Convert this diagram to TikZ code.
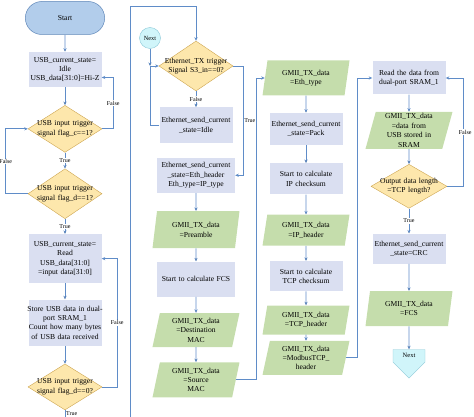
\documentclass[tikz,border=0pt]{standalone}
\usepackage{fontspec}
\setmainfont{Liberation Serif}
\usetikzlibrary{arrows.meta,positioning,shapes.geometric,shapes.misc,shapes.symbols}

\definecolor{boxblue}{RGB}{218,223,241}
\definecolor{iogreen}{RGB}{197,221,172}
\definecolor{decyellow}{RGB}{253,231,172}
\definecolor{decedge}{RGB}{205,165,80}
\definecolor{startblue}{RGB}{178,205,235}
\definecolor{startedge}{RGB}{95,135,185}
\definecolor{nextcyan}{RGB}{208,245,250}
\definecolor{nextedge}{RGB}{140,200,215}
\definecolor{flowline}{RGB}{95,140,200}

\begin{document}
\begin{tikzpicture}[x=1pt, y=-1pt,
    font=\fontsize{7.6}{9.4}\selectfont,
    >={Stealth[length=3.6pt,width=3.2pt]},
    proc/.style={rectangle, fill=boxblue, text width=#1, inner xsep=0pt, inner ysep=2pt, align=center},
    proc/.default=73pt,
    io/.style={trapezium, trapezium left angle=73, trapezium right angle=107, trapezium stretches body,
      fill=iogreen, text width=62pt, inner sep=0pt, align=center, minimum width=87pt},
    cond/.style={diamond, aspect=1.55, fill=decyellow, draw=decedge, line width=0.4pt,
      text width=64pt, inner sep=-6pt, align=center, minimum width=74pt},
    link/.style={draw=flowline, line width=0.9pt},
    tag/.style={font=\fontsize{6}{7}\selectfont, fill=white, inner sep=0.6pt, text=black}]
  \useasboundingbox (0,0) rectangle (474,417);

  % USB receive side
  \node[rounded rectangle, fill=startblue, draw=startedge, line width=0.5pt,
    minimum width=86pt, minimum height=33pt] (start) at (65,18) {Start};
  \node[proc, minimum height=35pt, below=17pt of start] (idle1) {USB\_current\_state=\\Idle\\USB\_data[31:0]=Hi-Z};
  \node[cond, minimum height=47pt, below=18pt of idle1] (flagc) {USB input trigger\\signal flag\_c==1?};
  \node[cond, minimum height=50pt, below=16pt of flagc] (flagd1) {USB input trigger\\signal flag\_d==1?};
  \node[proc, minimum height=49pt, below=15pt of flagd1] (read) {USB\_current\_state=\\Read\\USB\_data[31:0]\\=input data[31:0]};
  \node[proc=77pt, inner xsep=-2pt, minimum height=46pt, below=16pt of read] (store) {Store USB data in dual-\\port SRAM\_1\\Count how many bytes\\of USB data received};
  \node[cond, minimum height=46pt, below=18pt of store] (flagd0) {USB input trigger\\signal flag\_d==0?};
  \coordinate (bot1) at (65,417);
  \coordinate (bot2) at (130,417);

  % Ethernet header
  \node[circle, fill=nextcyan, draw=nextedge, line width=0.4pt, minimum size=21pt, inner sep=0pt,
    font=\fontsize{6.3}{7}\selectfont] (next1) at (150,38) {Next};
  \node[cond, minimum height=50pt] (txtrig) at (196,66) {Ethernet\_TX trigger\\Signal S3\_in==0?};
  \node[proc, minimum height=36pt, below=16pt of txtrig] (idle2) {Ethernet\_send\_current\\\_state=Idle};
  \node[proc=78pt, minimum height=35pt, below=14pt of idle2] (ethhdr) {Ethernet\_send\_current\\\_state=Eth\_header\\Eth\_type=IP\_type};
  \node[io, minimum height=37pt, below=18pt of ethhdr] (preamble) {GMII\_TX\_data\\=Preamble};
  \node[proc=78pt, minimum height=35pt, below=13pt of preamble] (fcs) {Start to calculate FCS};
  \node[io, minimum height=34pt, below=16pt of fcs] (dstmac) {GMII\_TX\_data\\=Destination\\MAC};
  \node[io, minimum height=35pt, below=15pt of dstmac] (srcmac) {GMII\_TX\_data\\=Source\\MAC};
  \coordinate (jn) at (next1 |- txtrig.west);

  % IP / TCP header
  \node[io, minimum height=35pt] (ethtype) at (306,78) {GMII\_TX\_data\\=Eth\_type};
  \node[proc, minimum height=32pt, below=17pt of ethtype] (pack) {Ethernet\_send\_current\\\_state=Pack};
  \node[proc, minimum height=31pt, below=18pt of pack] (ipcs) {Start to calculate\\IP checksum};
  \node[io, minimum height=31pt, below=20pt of ipcs] (iphdr) {GMII\_TX\_data\\=IP\_header};
  \node[proc, minimum height=30pt, below=15pt of iphdr] (tcpcs) {Start to calculate\\TCP checksum};
  \node[io, minimum height=29pt, below=14pt of tcpcs] (tcphdr) {GMII\_TX\_data\\=TCP\_header};
  \node[io, minimum height=34pt, below=6pt of tcphdr] (modbus) {GMII\_TX\_data\\=ModbusTCP\_\\header};

  % payload and FCS
  \node[proc, minimum height=33pt] (readsram) at (409,78) {Read the data from\\dual-port SRAM\_1};
  \node[io, minimum height=37pt, below=17pt of readsram] (usbdata) {GMII\_TX\_data\\=data from\\USB stored in\\SRAM};
  \node[cond, minimum height=44pt, minimum width=76pt, below=15pt of usbdata] (tcplen) {Output data length\\=TCP length?};
  \node[proc, minimum height=30pt, below=25pt of tcplen] (crc) {Ethernet\_send\_current\\\_state=CRC};
  \node[io, minimum height=35pt, below=27pt of crc] (fcs2) {GMII\_TX\_data\\=FCS};
  \node[signal, signal to=south, signal pointer angle=90, fill=nextcyan, draw=nextedge, line width=0.4pt,
    minimum width=32pt, minimum height=19pt, inner sep=0pt, font=\fontsize{6.5}{7}\selectfont,
    below=23pt of fcs2] (next2) {Next};

  \path[link,->]
    (start) edge (idle1)
    (idle1) edge (flagc)
    (flagc) edge node[tag] {True} (flagd1)
    (flagd1) edge node[tag] {True} (read)
    (read) edge (store)
    (store) edge (flagd0)
    (next1) edge (jn)
    (txtrig) edge node[tag] {False} (idle2)
    (ethhdr) edge (preamble)
    (preamble) edge (fcs)
    (fcs) edge (dstmac)
    (dstmac) edge (srcmac)
    (ethtype) edge (pack)
    (pack) edge (ipcs)
    (ipcs) edge (iphdr)
    (iphdr) edge (tcpcs)
    (tcpcs) edge (tcphdr)
    (tcphdr) edge (modbus)
    (readsram) edge (usbdata)
    (usbdata) edge (tcplen)
    (tcplen) edge node[tag] {True} (crc)
    (crc) edge (fcs2)
    (fcs2) edge (next2);

  \draw[link,->] (flagc.east) -- ++(11,0) |- node[tag, pos=0.25] {False} ([yshift=-8pt]idle1.east);
  \draw[link,->] (flagd1.west) -- ++(-22,0) |- node[tag, pos=0.25] {False} (flagc.west);
  \draw[link,->] (flagd0.east) -- ++(15,0) |- node[tag, pos=0.25] {False} (read.east);
  \draw[link] (flagd0.south) -- node[tag, right, fill=none] {True} (bot1);
  \draw[link,->] (bot2) |- ([yshift=34pt]txtrig.north) -- (txtrig.north);
  \draw[link,->] (idle2.west) -| (jn) -- (txtrig.west);
  \draw[link,->] (txtrig.east) -- ++(10,0) |- node[tag, right, pos=0.25, fill=none] {True} (ethhdr.east);
  \draw[link,->] (srcmac.east) -- ++(20,0) |- (ethtype.west);
  \draw[link,->] (modbus.east) -- ++(11,0) |- (readsram.west);
  \draw[link,->] (tcplen.east) -- ++(16,0) |- node[tag, pos=0.25, xshift=2pt] {False} (readsram.east);
\end{tikzpicture}
\end{document}
